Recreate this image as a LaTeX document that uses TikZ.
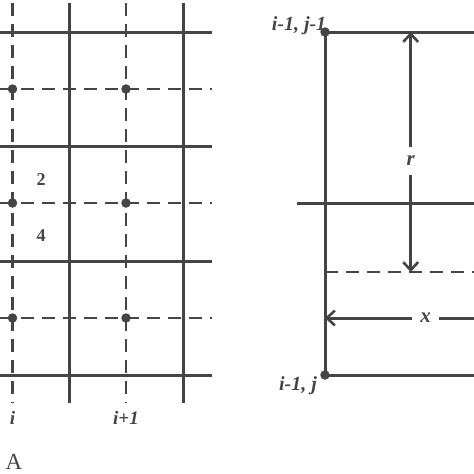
\documentclass[tikz,border=0pt]{standalone}
\usepackage{fontspec}
\setmainfont{Liberation Serif}
\usetikzlibrary{arrows.meta}
\definecolor{lc}{HTML}{454545}
\begin{document}
\begin{tikzpicture}[x=1pt,y=-1pt,
  solidline/.style={line width=3pt, draw=lc},
  dashline/.style={line width=2.7pt, draw=lc, dash pattern=on 13pt off 8pt},
  dot/.style={circle, fill=lc, inner sep=0pt, minimum size=9.5pt},
  lab/.style={text=lc, font=\fontsize{20}{22}\selectfont\bfseries\itshape, inner sep=1pt},
  numlab/.style={text=lc, font=\fontsize{18}{20}\selectfont\bfseries, inner sep=1pt},
  ilab/.style={text=lc, font=\fontsize{19}{21}\selectfont\bfseries\itshape, inner sep=1pt},
  gaplab/.style={text=lc, fill=white, font=\fontsize{21}{23}\selectfont\bfseries\itshape, inner sep=0pt, minimum width=27pt, minimum height=28pt},
  tip/.style={-{Straight Barb[length=8pt,width=15pt,line width=2.6pt]}}]
\useasboundingbox (0,0) rectangle (474,474);
% ---------- left panel ----------
\foreach \y in {89,203,318} \draw[dashline] (0,\y) -- (212,\y);
\foreach \x in {12.5,126} \draw[dashline] (\x,3) -- (\x,403);
\foreach \y in {32,146,261,375} \draw[solidline] (0,\y) -- (212,\y);
\foreach \x in {69.5,183} \draw[solidline] (\x,3) -- (\x,403);
\node[dot] (d11) at (12.5,89) {};
\node[dot] (d21) at (126,89) {};
\node[dot] (d12) at (12.5,203) {};
\node[dot] (d22) at (126,203) {};
\node[dot] (d13) at (12.5,318) {};
\node[dot] (d23) at (126,318) {};
\node[numlab] (n2) at (41,180) {2};
\node[numlab] (n4) at (41,236) {4};
\node[ilab] (li) at (12.5,418) {i};
\node[ilab] (lii) at (126,418) {i+1};
\node[text=lc, font=\fontsize{23}{25}\selectfont, inner sep=0pt, anchor=base] (A) at (14,469) {A};
% ---------- right panel ----------
\node[dot] (tl) at (325,32) {};
\node[dot] (bl) at (325,375) {};
\coordinate (tr) at (474,32);
\coordinate (br) at (474,375);
\coordinate (ml) at (297,203);
\coordinate (mr) at (474,203);
\coordinate (dl) at (325,272);
\coordinate (dr) at (474,272);
\draw[solidline] (tl.center) -- (bl.center);
\draw[solidline] (tl.center) -- (tr);
\draw[solidline] (bl.center) -- (br);
\draw[solidline] (ml) -- (mr);
\draw[dashline] (dl) -- (dr);
% r arrow
\coordinate (rtop) at (410.7,32);
\coordinate (rbot) at (410.7,272);
\node[gaplab] (r) at (410.7,161) {r};
\draw[solidline, tip] (r) -- (rtop);
\draw[solidline, tip] (r) -- (rbot);
% x arrow
\coordinate (xl) at (325,318);
\coordinate (xr) at (474,318);
\node[gaplab] (x) at (425.5,318) {x};
\draw[solidline, tip] (x) -- (xl);
\draw[solidline] (x) -- (xr);
\node[lab] (ltl) at (299,26) {i-1, j-1};
\node[lab] (lbl) at (298,386) {i-1, j};
\end{tikzpicture}
\end{document}
